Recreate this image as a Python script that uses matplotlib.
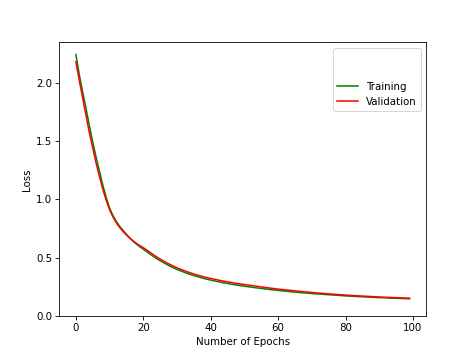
import numpy as np
import matplotlib
matplotlib.use('Agg')
import matplotlib.pyplot as plt
from matplotlib.lines import Line2D

epochs = np.arange(100)

train_loss = [2.24, 2.07, 1.92, 1.78, 1.63, 1.49, 1.36, 1.24, 1.12, 1.015,
              0.925, 0.86, 0.81, 0.768, 0.732, 0.699, 0.668, 0.640, 0.615, 0.592,
              0.572, 0.551, 0.530, 0.510, 0.490, 0.474, 0.457, 0.441, 0.426, 0.412,
              0.399, 0.387, 0.376, 0.365, 0.355, 0.346, 0.337, 0.329, 0.321, 0.314,
              0.307, 0.301, 0.295, 0.289, 0.283, 0.278, 0.273, 0.268, 0.263, 0.259,
              0.255, 0.251, 0.247, 0.243, 0.239, 0.236, 0.232, 0.229, 0.225, 0.222,
              0.219, 0.216, 0.213, 0.210, 0.207, 0.205, 0.202, 0.199, 0.197, 0.195,
              0.192, 0.190, 0.188, 0.186, 0.184, 0.182, 0.180, 0.178, 0.176, 0.174,
              0.172, 0.170, 0.169, 0.167, 0.166, 0.164, 0.163, 0.161, 0.160, 0.158,
              0.157, 0.156, 0.155, 0.153, 0.152, 0.151, 0.150, 0.149, 0.148, 0.147]

val_loss = [2.18, 2.02, 1.87, 1.72, 1.57, 1.44, 1.31, 1.195, 1.085, 0.99,
            0.91, 0.848, 0.798, 0.758, 0.724, 0.694, 0.666, 0.643, 0.621, 0.602,
            0.585, 0.565, 0.545, 0.525, 0.505, 0.488, 0.471, 0.455, 0.440, 0.426,
            0.413, 0.401, 0.390, 0.379, 0.369, 0.360, 0.351, 0.343, 0.335, 0.328,
            0.321, 0.315, 0.309, 0.303, 0.297, 0.292, 0.287, 0.282, 0.277, 0.273,
            0.269, 0.265, 0.261, 0.257, 0.253, 0.249, 0.245, 0.241, 0.237, 0.234,
            0.230, 0.227, 0.224, 0.221, 0.218, 0.215, 0.212, 0.209, 0.206, 0.204,
            0.201, 0.199, 0.196, 0.194, 0.192, 0.189, 0.187, 0.185, 0.183, 0.181,
            0.179, 0.177, 0.175, 0.174, 0.172, 0.170, 0.169, 0.167, 0.166, 0.164,
            0.163, 0.161, 0.160, 0.159, 0.157, 0.156, 0.155, 0.154, 0.153, 0.152]

plt.figure(figsize=(6.4, 4.8), dpi=74)
plt.plot(epochs, train_loss, 'g', label='Training')
plt.plot(epochs, val_loss, 'r', label='Validation')
plt.xlabel('Number of Epochs')
plt.ylabel('Loss')
plt.ylim(bottom=0)

# two empty rows on top of the legend, like in the original
blank = Line2D([], [], linestyle='none')
h, l = plt.gca().get_legend_handles_labels()
plt.legend([blank, blank] + h, [' ', ' '] + l, loc='upper right')
plt.savefig('out.png', dpi=74)
